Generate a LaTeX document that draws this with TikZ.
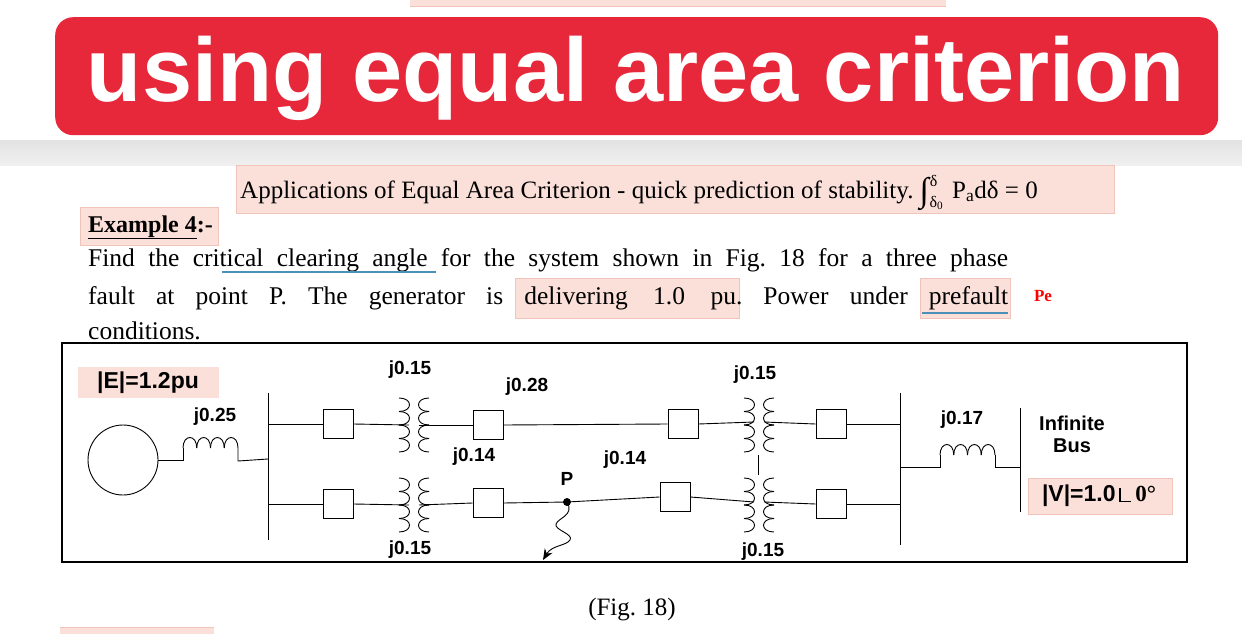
\documentclass[tikz,border=0pt]{standalone}
\usepackage{fontspec}
\setmainfont{Liberation Serif}
\setsansfont{Liberation Sans}
\usetikzlibrary{arrows.meta}
\definecolor{hl}{HTML}{FBE0DA}
\definecolor{hlb}{HTML}{F0C4BA}
\definecolor{banner}{HTML}{E7283A}
\definecolor{ul}{HTML}{4A90B8}
\tikzset{
  hlbox/.style={fill=hl,draw=hlb,line width=0.8pt},
  cb/.style={draw,line width=0.9pt,fill=white,minimum width=30pt,minimum height=29pt,inner sep=0},
  lbl/.style={font=\sffamily\bfseries\fontsize{19}{20}\selectfont,inner sep=0},
  wire/.style={line width=0.9pt},
  para/.style={font=\fontsize{25.5}{27}\selectfont,anchor=base west,inner sep=0}
}
\newcommand{\coilR}[3]{%
  \foreach \i in {1,...,#3}{\draw[wire] (#1,#2+13.5*\i-13.5) .. controls (#1+14,#2+13.5*\i-13.5) and (#1+14,#2+13.5*\i) .. (#1,#2+13.5*\i);}}
\newcommand{\coilL}[3]{%
  \foreach \i in {1,...,#3}{\draw[wire] (#1,#2+13.5*\i-13.5) .. controls (#1-14,#2+13.5*\i-13.5) and (#1-14,#2+13.5*\i) .. (#1,#2+13.5*\i);}}
\newcommand{\humps}[3]{%
  \foreach \i in {1,...,#3}{\draw[wire] (#1+13.75*\i-13.75,#2) .. controls (#1+13.75*\i-13.75,#2-14) and (#1+13.75*\i,#2-14) .. (#1+13.75*\i,#2);}}
\begin{document}
\begin{tikzpicture}[x=1pt,y=-1pt]
\frenchspacing
\useasboundingbox (0,0) rectangle (1242,634);
\fill[hl] (410,0) rectangle (946,6);
\draw[hlb] (410,6) -- (946,6);
\node[fill=banner,rounded corners=18pt,minimum width=1163pt,minimum height=118pt,anchor=north west,inner sep=0] (ban) at (55,17) {};
\node[text=white,font=\sffamily\bfseries\fontsize{100}{100}\selectfont,inner sep=0] (title) at (636,78) {\resizebox{1098pt}{!}{using equal area criterion}};
\shade[top color=white!78!gray,bottom color=white!88!gray] (0,140) rectangle (1242,165);
\node[hlbox,minimum width=878pt,minimum height=48pt,anchor=north west,inner sep=0] (sub) at (236,165) {};
\node[font=\fontsize{25}{27}\selectfont,anchor=base west,inner sep=0] (subt) at (240,198) {Applications of Equal Area Criterion - quick prediction of stability. {\fontsize{34}{34}\selectfont\raisebox{-3pt}{∫}}\hspace{1pt}\makebox[16pt][l]{\raisebox{12pt}{\fontsize{16}{16}\selectfont δ}\hspace{-8pt}\raisebox{-9pt}{\fontsize{16}{16}\selectfont δ\textsubscript{0}}} P\textsubscript{a}dδ = 0};
\node[hlbox,minimum width=138pt,minimum height=38pt,anchor=north west,inner sep=0] (exb) at (80,207) {};
\node[para,font=\bfseries\fontsize{24}{26}\selectfont] (ex) at (88,232) {\underline{Example 4}:-};
\node[hlbox,minimum width=224pt,minimum height=40pt,anchor=north west,inner sep=0] (h1) at (515,278) {};
\node[hlbox,minimum width=90pt,minimum height=40pt,anchor=north west,inner sep=0] (h2) at (920,278) {};
\node[para] (l1) at (88,266) {\makebox[920pt][s]{Find the critical clearing angle for the system shown in Fig. 18 for a three phase}};
\node[para] (l2) at (88,304) {\makebox[920pt][s]{fault at point P. The generator is \makebox[218pt][s]{delivering 1.0 pu.} Power under prefault}};
\node[para] (l3) at (88,339) {conditions.};
\draw[ul,line width=2pt] (222,272) -- (436,272);
\draw[ul,line width=2pt] (922,313) -- (1008,313);
\node[text=red,font=\bfseries\fontsize{17}{18}\selectfont] (pe) at (1043,296) {Pe};
\draw[line width=1.6pt] (62,343) rectangle (1187,562);
\node[hlbox,draw=none,minimum width=141pt,minimum height=31pt,anchor=north west,inner sep=0] (eb) at (78,367) {};
\node[lbl,font=\sffamily\bfseries\fontsize{23}{24}\selectfont] (E) at (148,383) {|E|=1.2pu};
\node[draw,circle,line width=0.9pt,minimum size=70pt,inner sep=0] (gen) at (123,460) {};
\draw[wire] (gen.east) -- (183,460) -- (183,448);
\humps{183}{448}{4}
\draw[wire] (238,448) -- (238,461) -- (268,459);
\node[lbl] (l025) at (215,417) {j0.25};
\draw[wire] (268,393) -- (268,540);
\node[cb] (b1) at (338,424) {};
\node[cb] (b2) at (488,425) {};
\node[cb] (b3) at (683,424) {};
\node[cb] (b4) at (831,424) {};
\node[cb] (b5) at (338,504) {};
\node[cb] (b6) at (488,503) {};
\node[cb] (b7) at (675,497) {};
\node[cb] (b8) at (831,504) {};
\coilR{399}{398}{4}\coilL{429}{398}{4}
\coilR{399}{478}{4}\coilL{429}{478}{4}
\coilR{744}{398}{4}\coilL{774}{398}{4}
\coilR{744}{478}{4}\coilL{774}{478}{4}
\draw[wire] (758,455) -- (758,475);
\coordinate (t1a) at (409,425); \coordinate (t1b) at (419,425);
\coordinate (t2a) at (409,505); \coordinate (t2b) at (419,505);
\coordinate (t3a) at (754,422); \coordinate (t3b) at (764,422);
\coordinate (t4a) at (754,502); \coordinate (t4b) at (764,502);
\draw[wire] (268,424) -- (b1.west); \draw[wire] (b1.east) -- (t1a);
\draw[wire] (t1b) -- (b2.west); \draw[wire] (b2.east) -- (b3.west);
\draw[wire] (b3.east) -- (t3a); \draw[wire] (t3b) -- (b4.west);
\draw[wire] (b4.east) -- (900,424);
\coordinate (P) at (567,502);
\draw[wire] (268,504) -- (b5.west); \draw[wire] (b5.east) -- (t2a);
\draw[wire] (t2b) -- (b6.west); \draw[wire] (b6.east) -- (P) -- (b7.west);
\draw[wire] (b7.east) -- (t4a); \draw[wire] (t4b) -- (b8.west);
\draw[wire] (b8.east) -- (900,504);
\fill (P) circle (4pt);
\node[lbl] (Pl) at (567,479) {P};
\coordinate (F) at (543,560);
\draw[wire,-{Stealth[length=11pt,width=9pt]}] (P) .. controls (575,515) and (558,518) .. (556,524) .. controls (554,530) and (574,534) .. (570,540) .. controls (566,546) and (552,545) .. (F);
\draw[wire] (900,393) -- (900,545);
\draw[wire] (900,467) -- (940,467) -- (940,455);
\humps{940}{455}{4}
\draw[wire] (995,455) -- (995,467) -- (1020,467);
\draw[wire] (1020,408) -- (1020,512);
\node[lbl] (l017) at (962,420) {j0.17};
\node[lbl,font=\sffamily\bfseries\fontsize{20}{22}\selectfont,align=center] (inf) at (1072,434) {Infinite\\Bus};
\node[hlbox,minimum width=144pt,minimum height=36pt,anchor=north west,inner sep=0] (vb) at (1028,478) {};
\node[font=\sffamily\bfseries\fontsize{23}{24}\selectfont,inner sep=0] (V) at (1099,496) {|V|=1.0\,\rule{1.2pt}{14pt}\hspace{-1.2pt}\rule{12pt}{1.2pt}\,\textnormal{\bfseries 0°}};
\node[lbl] (a1) at (410,370) {j0.15};
\node[lbl] (a2) at (527,387) {j0.28};
\node[lbl] (a3) at (474,457) {j0.14};
\node[lbl] (a4) at (625,460) {j0.14};
\node[lbl] (a5) at (410,550) {j0.15};
\node[lbl] (a6) at (755,375) {j0.15};
\node[lbl] (a7) at (763,552) {j0.15};
\node[font=\fontsize{25}{27}\selectfont,inner sep=0] (cap) at (632,610) {(Fig. 18)};
\fill[hl] (60,627) rectangle (214,634);
\draw[hlb] (60,627) -- (214,627);
\end{tikzpicture}
\end{document}
